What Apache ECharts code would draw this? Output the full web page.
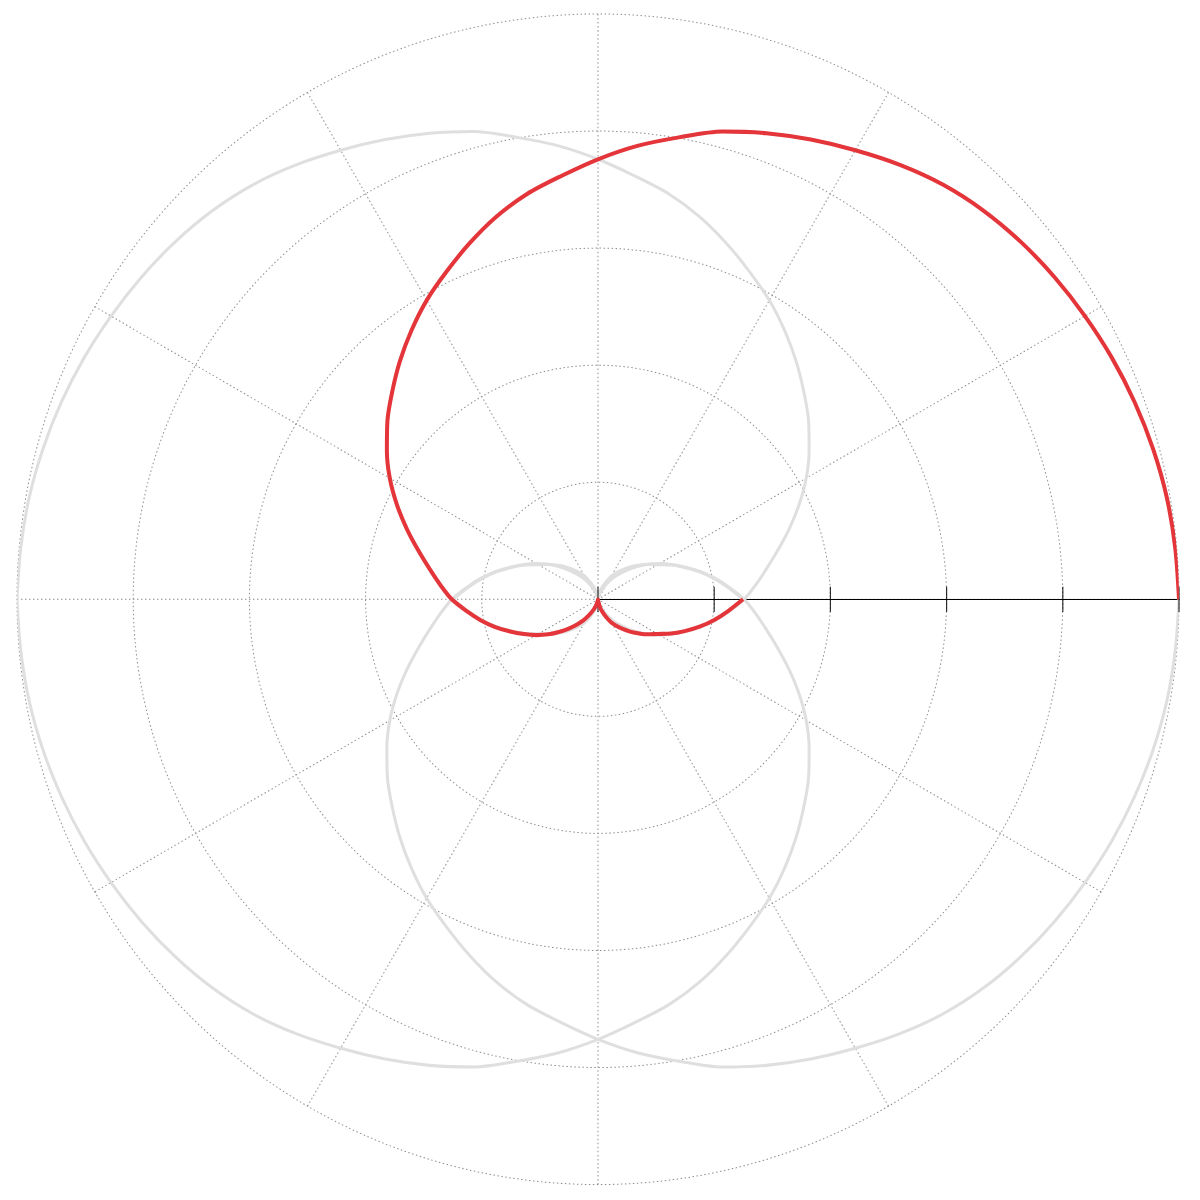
<!DOCTYPE html>
<html>
<head>
<meta charset="utf-8">
<script src="https://cdn.jsdelivr.net/npm/echarts@6/dist/echarts.min.js"></script>
<style>
html,body{margin:0;padding:0;background:#fff;overflow:hidden;width:1200px;height:1200px;}
#chart{width:1200px;height:1200px;transform-origin:598px 599.3px;transform:scaleY(1.0074);}
</style>
</head>
<body>
<div id="chart"></div>
<script>
// Angle (degrees, counter-clockwise from east) of each point of the highlighted curve
const angleDeg = [0,5,10,15,20,25,30,35,40,45,50,55,60,65,70,75,80,85,90,95,100,105,110,115,120,125,130,135,140,145,150,155,160,165,170,175,180,
  185,190,195,200,205,210,215,220,225,230,235,240,245,250,255,260,265,270,275,280,285,290,295,300,305,310,315,320,325,330,335,340,345,350,355,360];
// Radius at each angle
const redRadius = [5.00,4.987,4.972,4.947,4.916,4.880,4.839,4.797,4.750,4.694,4.622,4.530,4.429,4.333,4.237,4.137,4.007,3.888,3.759,
  3.630,3.516,3.383,3.235,3.087,2.949,2.801,2.653,2.505,2.366,2.218,2.069,1.909,1.749,1.599,1.469,1.359,1.258,
  1.137,1.026,0.915,0.804,0.703,0.612,0.522,0.431,0.350,0.280,0.220,0.159,0.109,0.069,0.034,0.010,0.002,0,
  0.003,0.029,0.079,0.119,0.169,0.229,0.279,0.330,0.390,0.451,0.522,0.592,0.693,0.794,0.905,1.016,1.127,1.248];

// Gray background copies of the curve (mirror images), same radii placed at these angles
const mirrorXAngle = [360,355,350,345,340,335,330,325,320,315,310,305,300,295,290,285,280,275,270,265,260,255,250,245,240,235,230,225,220,215,210,205,200,195,190,185,180,
  175,170,165,160,155,150,145,140,135,130,125,120,115,110,105,100,95,90,85,80,75,70,65,60,55,50,45,40,35,30,25,20,15,10,5,0];
const mirrorYAngle = [180,175,170,165,160,155,150,145,140,135,130,125,120,115,110,105,100,95,90,85,80,75,70,65,60,55,50,45,40,35,30,25,20,15,10,5,0,
  355,350,345,340,335,330,325,320,315,310,305,300,295,290,285,280,275,270,265,260,255,250,245,240,235,230,225,220,215,210,205,200,195,190,185,180];
const rotatedAngle = [180,185,190,195,200,205,210,215,220,225,230,235,240,245,250,255,260,265,270,275,280,285,290,295,300,305,310,315,320,325,330,335,340,345,350,355,360,
  5,10,15,20,25,30,35,40,45,50,55,60,65,70,75,80,85,90,95,100,105,110,115,120,125,130,135,140,145,150,155,160,165,170,175,180];

// Radius axis tick values
const radiusTicks = [0,1,2,3,4,5];

function pairs(rs, as) { return rs.map((r, i) => [r, as[i]]); }

const chart = echarts.init(document.getElementById('chart'), null, {renderer:'svg'});

const splitStyle = {color:'#8f8f8f', width:1, type:[1.5,2.5]};
const grayStyle = {color:'#dfdfdf', width:3};

function grayLine(as) {
  return {
    type:'line', coordinateSystem:'polar',
    data: pairs(redRadius, as), showSymbol:false, symbol:'none', smooth:0.3,
    lineStyle: grayStyle, silent:true, z:2
  };
}

chart.setOption({
  backgroundColor:'#ffffff',
  animation:false,
  polar:{center:[598,599.3], radius:581},
  angleAxis:{
    type:'value', min:0, max:360, interval:30, startAngle:0, clockwise:false,
    axisLine:{show:false}, axisTick:{show:false}, axisLabel:{show:false},
    splitLine:{show:true, lineStyle:splitStyle}
  },
  radiusAxis:{
    type:'value', min:radiusTicks[0], max:radiusTicks[radiusTicks.length-1], interval:1,
    axisLine:{show:true, lineStyle:{color:'#000', width:1}},
    axisTick:{show:false},
    axisLabel:{show:false},
    splitLine:{show:true, lineStyle:splitStyle}
  },
  series:[
    grayLine(angleDeg),
    grayLine(mirrorXAngle),
    grayLine(mirrorYAngle),
    grayLine(rotatedAngle),
    {
      type:'scatter', coordinateSystem:'polar', clip:false, silent:true,
      data: radiusTicks.map(r => [r, 0]),
      symbol:'rect', symbolSize:[1.2,25],
      itemStyle:{color:'#000'}, z:4
    },
    {
      type:'line', coordinateSystem:'polar',
      data: pairs(redRadius, angleDeg), showSymbol:false, symbol:'none', smooth:0.3,
      lineStyle:{color:'#e3353a', width:4}, z:5
    }
  ]
});
</script>
</body>
</html>
